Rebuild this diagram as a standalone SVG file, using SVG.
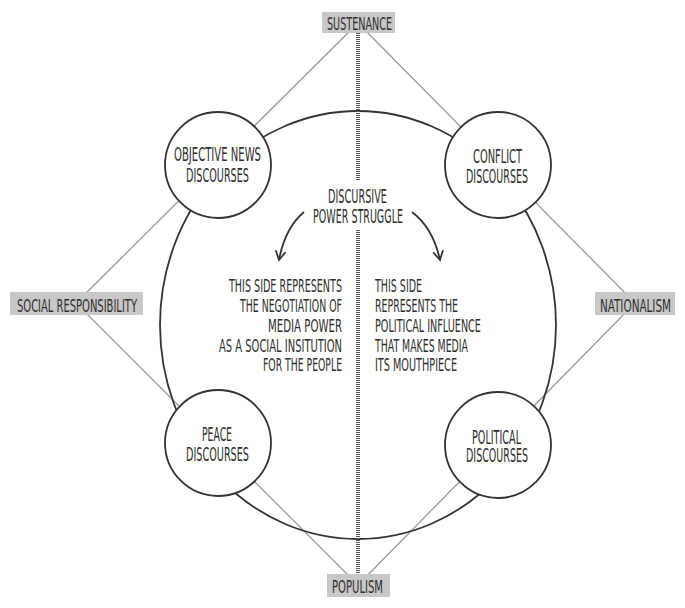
<svg xmlns="http://www.w3.org/2000/svg" width="685" height="608" viewBox="0 0 685 608">
<defs>
<style>
text{font-family:"DejaVu Sans Condensed","DejaVu Sans","Liberation Sans",sans-serif;fill:#2e2e2e;font-size:19px}
.lbl{font-size:17px}
.side{font-size:17px}
.box{fill:#c9c7c7}
.diag{stroke:#9a9a9a;stroke-width:1.3;fill:none}
.node{fill:#fff;stroke:#333;stroke-width:1.8}
.arr{fill:none;stroke:#333;stroke-width:1.8}
.dash{stroke:#555;stroke-width:4;stroke-dasharray:1 1;fill:none}
</style>
<marker id="ah" viewBox="0 0 12 12" refX="10" refY="6" markerWidth="12" markerHeight="12" markerUnits="userSpaceOnUse" orient="auto">
<path d="M1,1 L10,6 L1,11" fill="none" stroke="#333" stroke-width="1.8"/>
</marker>
</defs>
<rect width="685" height="608" fill="#fff"/>
<g id="connectors">
<path class="diag" d="M358,23 L76,303 L358,585 L635,303 Z"/>
<ellipse cx="358" cy="325" rx="198" ry="214" fill="none" stroke="#333" stroke-width="1.8"/>
<line class="dash" x1="358" y1="33" x2="358" y2="180"/>
<line class="dash" x1="358" y1="230" x2="358" y2="574"/>
<path class="arr" d="M304,212 Q285,228 279,260" marker-end="url(#ah)"/>
<path class="arr" d="M412,212 Q433,228 440,260" marker-end="url(#ah)"/>
</g>
<g id="sustenance">
<rect class="box" x="322" y="12" width="73" height="21"/>
<text class="lbl" transform="translate(359.5,30) scale(0.55,1)" text-anchor="middle" textLength="118.2" lengthAdjust="spacingAndGlyphs">SUSTENANCE</text>
</g>
<g id="social-responsibility">
<rect class="box" x="10" y="292" width="133" height="23"/>
<text class="lbl" transform="translate(77,312) scale(0.55,1)" text-anchor="middle" textLength="218.2" lengthAdjust="spacingAndGlyphs">SOCIAL RESPONSIBILITY</text>
</g>
<g id="nationalism">
<rect class="box" x="595" y="292" width="80" height="23"/>
<text class="lbl" transform="translate(635.5,312) scale(0.55,1)" text-anchor="middle" textLength="129.1" lengthAdjust="spacingAndGlyphs">NATIONALISM</text>
</g>
<g id="populism">
<rect class="box" x="327" y="574" width="63" height="23"/>
<text class="lbl" transform="translate(357.5,593) scale(0.55,1)" text-anchor="middle" textLength="92.7" lengthAdjust="spacingAndGlyphs">POPULISM</text>
</g>
<g id="objective-news">
<circle class="node" cx="218" cy="165" r="53"/>
<text transform="translate(217.5,161) scale(0.55,1)" text-anchor="middle" textLength="158.2" lengthAdjust="spacingAndGlyphs">OBJECTIVE NEWS</text>
<text transform="translate(217.5,182) scale(0.55,1)" text-anchor="middle" textLength="114.5" lengthAdjust="spacingAndGlyphs">DISCOURSES</text>
</g>
<g id="conflict">
<circle class="node" cx="498" cy="165" r="53"/>
<text transform="translate(497.5,163) scale(0.55,1)" text-anchor="middle" textLength="89.1" lengthAdjust="spacingAndGlyphs">CONFLICT</text>
<text transform="translate(497,183) scale(0.55,1)" text-anchor="middle" textLength="112.7" lengthAdjust="spacingAndGlyphs">DISCOURSES</text>
</g>
<g id="peace">
<circle class="node" cx="218" cy="443" r="53"/>
<text transform="translate(217,441) scale(0.55,1)" text-anchor="middle" textLength="54.5" lengthAdjust="spacingAndGlyphs">PEACE</text>
<text transform="translate(217.5,461) scale(0.55,1)" text-anchor="middle" textLength="114.5" lengthAdjust="spacingAndGlyphs">DISCOURSES</text>
</g>
<g id="political">
<circle class="node" cx="498" cy="445" r="53"/>
<text transform="translate(496.5,444) scale(0.55,1)" text-anchor="middle" textLength="89.1" lengthAdjust="spacingAndGlyphs">POLITICAL</text>
<text transform="translate(497,462) scale(0.55,1)" text-anchor="middle" textLength="112.7" lengthAdjust="spacingAndGlyphs">DISCOURSES</text>
</g>
<g id="power-struggle">
<text transform="translate(357.5,203) scale(0.55,1)" text-anchor="middle" textLength="107.3" lengthAdjust="spacingAndGlyphs">DISCURSIVE</text>
<text transform="translate(358,223) scale(0.55,1)" text-anchor="middle" textLength="163.6" lengthAdjust="spacingAndGlyphs">POWER STRUGGLE</text>
</g>
<g id="left-side-text">
<text class="side" transform="translate(342,292) scale(0.55,1)" text-anchor="end" textLength="205.5" lengthAdjust="spacingAndGlyphs">THIS SIDE REPRESENTS</text>
<text class="side" transform="translate(342,312) scale(0.55,1)" text-anchor="end" textLength="185.5" lengthAdjust="spacingAndGlyphs">THE NEGOTIATION OF</text>
<text class="side" transform="translate(342,332) scale(0.55,1)" text-anchor="end" textLength="134.5" lengthAdjust="spacingAndGlyphs">MEDIA POWER</text>
<text class="side" transform="translate(342,352) scale(0.55,1)" text-anchor="end" textLength="223.6" lengthAdjust="spacingAndGlyphs">AS A SOCIAL INSITUTION</text>
<text class="side" transform="translate(342,371) scale(0.55,1)" text-anchor="end" textLength="143.6" lengthAdjust="spacingAndGlyphs">FOR THE PEOPLE</text>
</g>
<g id="right-side-text">
<text class="side" transform="translate(375,292) scale(0.55,1)" textLength="85.5" lengthAdjust="spacingAndGlyphs">THIS SIDE</text>
<text class="side" transform="translate(375,312) scale(0.55,1)" textLength="150.9" lengthAdjust="spacingAndGlyphs">REPRESENTS THE</text>
<text class="side" transform="translate(375,332) scale(0.55,1)" textLength="192.7" lengthAdjust="spacingAndGlyphs">POLITICAL INFLUENCE</text>
<text class="side" transform="translate(375,352) scale(0.55,1)" textLength="169.1" lengthAdjust="spacingAndGlyphs">THAT MAKES MEDIA</text>
<text class="side" transform="translate(375,371) scale(0.55,1)" textLength="149.1" lengthAdjust="spacingAndGlyphs">ITS MOUTHPIECE</text>
</g>
</svg>
